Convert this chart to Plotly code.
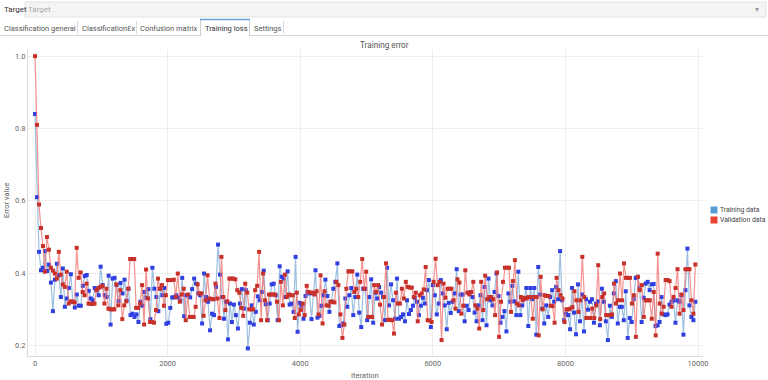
import numpy as np
import plotly.graph_objects as go

# ---------------- data ----------------
train_error = [
    0.84, 0.61,
    0.459, 0.408, 0.415, 0.461, 0.406, 0.424, 0.374, 0.295, 0.382, 0.426, 0.394, 0.334, 0.413, 0.307, 0.330,
    0.359, 0.397, 0.321, 0.305, 0.341, 0.310, 0.310, 0.365, 0.392, 0.395, 0.351, 0.330, 0.325, 0.359, 0.353,
    0.339, 0.418, 0.367, 0.339, 0.334, 0.393, 0.258, 0.385, 0.387, 0.367, 0.323, 0.373, 0.344, 0.382, 0.324,
    0.357, 0.284, 0.288, 0.279, 0.286, 0.265, 0.321, 0.310, 0.348, 0.332, 0.356, 0.273, 0.415, 0.357, 0.334,
    0.295, 0.357, 0.339, 0.359, 0.260, 0.263, 0.304, 0.333, 0.333, 0.339, 0.333, 0.324, 0.387, 0.281, 0.339,
    0.339, 0.333, 0.356, 0.385, 0.371, 0.344,
    0.339, 0.261, 0.399, 0.334, 0.321, 0.242, 0.288, 0.284, 0.362, 0.479, 0.396, 0.334, 0.274, 0.321, 0.217,
    0.316, 0.265, 0.313, 0.284, 0.247, 0.316, 0.356, 0.302, 0.353, 0.192, 0.263, 0.311, 0.258, 0.293, 0.336,
    0.325, 0.348, 0.407, 0.314, 0.270, 0.316, 0.369, 0.371, 0.339, 0.270, 0.419, 0.390, 0.385, 0.334, 0.405,
    0.313, 0.316, 0.293, 0.445, 0.238, 0.318, 0.310, 0.274, 0.337, 0.348, 0.344, 0.273, 0.344, 0.408, 0.277,
    0.282, 0.310, 0.339, 0.382, 0.337, 0.293, 0.321, 0.357, 0.376, 0.427, 0.254, 0.256, 0.261, 0.330, 0.307,
    0.339, 0.359, 0.284, 0.334, 0.396, 0.291, 0.251, 0.357,
    0.357, 0.270, 0.334, 0.383, 0.263, 0.346, 0.330, 0.362, 0.346, 0.334, 0.270, 0.415, 0.311, 0.369, 0.325,
    0.274, 0.385, 0.274, 0.279, 0.286, 0.267, 0.325, 0.287, 0.298, 0.310, 0.332, 0.321, 0.284, 0.310, 0.332,
    0.316, 0.353, 0.381, 0.251, 0.367, 0.339, 0.286, 0.316, 0.381, 0.344, 0.311, 0.245, 0.318, 0.290, 0.321,
    0.344, 0.411, 0.295, 0.341, 0.341, 0.267, 0.310, 0.298, 0.348, 0.334, 0.291, 0.267, 0.311, 0.339, 0.270,
    0.362, 0.256, 0.385, 0.325, 0.311, 0.348, 0.399, 0.337, 0.263, 0.279, 0.295, 0.239, 0.344, 0.321, 0.365,
    0.322, 0.284, 0.404, 0.284, 0.311, 0.330, 0.359, 0.254,
    0.359, 0.328, 0.359, 0.230, 0.417, 0.341, 0.302, 0.261, 0.311, 0.279, 0.334, 0.353, 0.321, 0.362, 0.328,
    0.461, 0.325, 0.270, 0.288, 0.284, 0.245, 0.359, 0.291, 0.231, 0.369, 0.267, 0.341, 0.239, 0.328, 0.299,
    0.321, 0.328, 0.263, 0.316, 0.322, 0.256, 0.357, 0.321, 0.267, 0.215, 0.310, 0.279, 0.344, 0.378, 0.261,
    0.307, 0.307, 0.270, 0.350, 0.221, 0.276, 0.265, 0.328, 0.387, 0.390, 0.359, 0.265, 0.332, 0.371, 0.376,
    0.353, 0.369, 0.370, 0.254, 0.256, 0.265, 0.334, 0.286, 0.284, 0.286, 0.313, 0.321, 0.324, 0.263, 0.325,
    0.321, 0.339, 0.230, 0.353, 0.468, 0.311, 0.279, 0.270, 0.321,
]

validation_error = [
    1.0, 0.81, 0.59, 0.525,
    0.475, 0.404, 0.500, 0.465, 0.415, 0.407, 0.399, 0.385, 0.459, 0.396, 0.369, 0.362, 0.404, 0.316, 0.322,
    0.321, 0.319, 0.470, 0.387, 0.402, 0.348, 0.339, 0.371, 0.316, 0.315, 0.315, 0.316, 0.353, 0.359, 0.362,
    0.365, 0.316, 0.357, 0.302, 0.300, 0.300, 0.300, 0.369, 0.311, 0.353, 0.273, 0.311, 0.322, 0.357, 0.439,
    0.439, 0.439, 0.304, 0.304, 0.316, 0.367, 0.258, 0.410, 0.330, 0.265, 0.265, 0.263, 0.298, 0.385, 0.357,
    0.367, 0.310, 0.339, 0.381, 0.381, 0.381, 0.382, 0.334, 0.399, 0.321, 0.341, 0.357, 0.270, 0.341, 0.279,
    0.279, 0.279, 0.307, 0.369, 0.344,
    0.344, 0.282, 0.325, 0.394, 0.330, 0.328, 0.328, 0.371, 0.330, 0.276, 0.445, 0.334, 0.298, 0.322, 0.385,
    0.385, 0.385, 0.383, 0.353, 0.346, 0.304, 0.282, 0.371, 0.346, 0.300, 0.300, 0.300, 0.353, 0.365, 0.459,
    0.270, 0.399, 0.325, 0.270, 0.341, 0.341, 0.341, 0.341, 0.321, 0.270, 0.376, 0.311, 0.396, 0.334, 0.341,
    0.339, 0.339, 0.276, 0.346, 0.286, 0.298, 0.316, 0.284, 0.365, 0.348, 0.346, 0.346, 0.341, 0.350, 0.286,
    0.394, 0.261, 0.350, 0.311, 0.310, 0.321, 0.321, 0.319, 0.376, 0.367, 0.286, 0.221, 0.258, 0.357, 0.405,
    0.405, 0.405, 0.348, 0.357, 0.334, 0.376, 0.439, 0.357,
    0.404, 0.279, 0.279, 0.279, 0.367, 0.348, 0.367, 0.313, 0.258, 0.334, 0.427, 0.271, 0.271, 0.270, 0.233,
    0.346, 0.316, 0.316, 0.357, 0.330, 0.376, 0.362, 0.360, 0.360, 0.334, 0.346, 0.267, 0.339, 0.344, 0.355,
    0.417, 0.270, 0.269, 0.265, 0.376, 0.440, 0.367, 0.376, 0.215, 0.371, 0.332, 0.357, 0.357, 0.357, 0.325,
    0.302, 0.383, 0.374, 0.288, 0.310, 0.408, 0.346, 0.341, 0.348, 0.376, 0.311, 0.302, 0.247, 0.376, 0.298,
    0.393, 0.328, 0.334, 0.334, 0.328, 0.284, 0.402, 0.224, 0.321, 0.376, 0.415, 0.415, 0.415, 0.293, 0.378,
    0.436, 0.316, 0.311, 0.334, 0.325, 0.332, 0.330, 0.334,
    0.334, 0.274, 0.334, 0.334, 0.228, 0.390, 0.300, 0.339, 0.337, 0.337, 0.310, 0.309, 0.263, 0.387, 0.353,
    0.339, 0.330, 0.265, 0.300, 0.300, 0.302, 0.306, 0.350, 0.325, 0.293, 0.325, 0.445, 0.334, 0.276, 0.276,
    0.276, 0.302, 0.276, 0.311, 0.422, 0.273, 0.334, 0.344, 0.284, 0.284, 0.284, 0.286, 0.371, 0.316, 0.325,
    0.399, 0.325, 0.427, 0.387, 0.387, 0.387, 0.316, 0.339, 0.224, 0.390, 0.353, 0.367, 0.279, 0.325, 0.325,
    0.325, 0.274, 0.348, 0.228, 0.454, 0.316, 0.288, 0.307, 0.381, 0.381, 0.378, 0.307, 0.334, 0.359, 0.411,
    0.288, 0.341, 0.298, 0.411, 0.411, 0.411, 0.325, 0.288, 0.424,
]

LAST_ITERATION = 9960
train_iter = np.linspace(0, LAST_ITERATION, len(train_error))
val_iter = np.linspace(0, LAST_ITERATION, len(validation_error))

x_ticks = [0, 2000, 4000, 6000, 8000, 10000]
x_tick_text = ["0", "2000", "4000", "6000", "8000", "10000"]
y_ticks = [0.2, 0.4, 0.6, 0.8, 1.0]
y_tick_text = ["0.2", "0.4", "0.6", "0.8", "1.0"]
tabs = ["Classification general", "ClassificationEx", "Confusion matrix", "Training loss", "Settings"]

# ---------------- layout helpers ----------------
W, H = 768, 380
L, R, T, B = 28, 703, 50, 356
FONT = "Roboto, Liberation Sans, Arial, sans-serif"


def px(x):
    return (x - L) / (R - L)


def py(y):
    return (B - y) / (B - T)


fig = go.Figure()
fig.add_trace(go.Scatter(
    x=train_iter, y=train_error, mode="lines+markers", name="Training data",
    line=dict(color="rgba(125,170,215,0.75)", width=1.2),
    marker=dict(symbol="square", size=4, color="#2f3fe0"),
    showlegend=False,
))
fig.add_trace(go.Scatter(
    x=val_iter, y=validation_error, mode="lines+markers", name="Validation data",
    line=dict(color="rgba(242,110,105,0.75)", width=1.2),
    marker=dict(symbol="square", size=4, color="#c8302a"),
    showlegend=False,
))

shapes = []
ann = []

# header: Target dropdown
shapes.append(dict(type="rect", xref="paper", yref="paper", x0=px(25), x1=px(766), y0=py(2), y1=py(17),
                   fillcolor="#f4f4f4", line=dict(color="#e3e3e3", width=1), layer="below"))
ann.append(dict(text="Target", x=px(2), y=py(9.5), xanchor="left", yanchor="middle",
                font=dict(size=8, color="#333333")))
ann.append(dict(text="Target", x=px(26), y=py(9.5), xanchor="left", yanchor="middle",
                font=dict(size=8, color="#aaaaaa")))
ann.append(dict(text="▾", x=px(757), y=py(9.5), xanchor="center", yanchor="middle",
                font=dict(size=8, color="#999999")))

# tabs
shapes.append(dict(type="line", xref="paper", yref="paper", x0=px(0), x1=px(768), y0=py(35.5), y1=py(35.5),
                   line=dict(color="#d6d6d6", width=1)))
for sx in [77.5, 136.5, 283.5]:
    shapes.append(dict(type="line", xref="paper", yref="paper", x0=px(sx), x1=px(sx), y0=py(21), y1=py(34),
                       line=dict(color="#dddddd", width=1)))
shapes.append(dict(type="rect", xref="paper", yref="paper", x0=px(200), x1=px(250), y0=py(19), y1=py(36.5),
                   fillcolor="white", line=dict(width=0)))
for sx in [200.5, 249.5]:
    shapes.append(dict(type="line", xref="paper", yref="paper", x0=px(sx), x1=px(sx), y0=py(19), y1=py(36),
                       line=dict(color="#cfcfcf", width=1)))
shapes.append(dict(type="line", xref="paper", yref="paper", x0=px(200), x1=px(250), y0=py(19.5), y1=py(19.5),
                   line=dict(color="#6e9fd8", width=1.5)))
tab_x = [1.5, 79.5, 137.5, 202.5, 251.5]
for name, tx in zip(tabs, tab_x):
    ann.append(dict(text=name, x=px(tx), y=py(28), xanchor="left", yanchor="middle",
                    font=dict(size=7.5, color="#333333" if name == "Training loss" else "#555555")))

# title and axis titles
ann.append(dict(text="Training error", x=px(384), y=py(44.5), xanchor="center", yanchor="middle",
                font=dict(size=8.2, color="#555555")))
ann.append(dict(text="Iteration", x=px(365), y=py(375), xanchor="center", yanchor="middle",
                font=dict(size=7.5, color="#666666")))
ann.append(dict(text="Error value", x=px(6), y=py(200), xanchor="center", yanchor="middle", textangle=-90,
                font=dict(size=7.5, color="#666666")))

# legend
legend_items = [("Training data", "#5b9bd5", 210), ("Validation data", "#e8432f", 220)]
for label, col, ly in legend_items:
    shapes.append(dict(type="rect", xref="paper", yref="paper", x0=px(710.5), x1=px(717.5),
                       y0=py(ly - 3.5), y1=py(ly + 3.5), fillcolor=col, line=dict(width=0)))
    ann.append(dict(text=label, x=px(718), y=py(ly), xanchor="left", yanchor="middle",
                    font=dict(size=6.8, color="#444444")))

for a in ann:
    a.update(xref="paper", yref="paper", showarrow=False)

fig.update_layout(
    width=W, height=H,
    margin=dict(l=L, r=W - R, t=T, b=H - B, autoexpand=False),
    paper_bgcolor="white", plot_bgcolor="white",
    font=dict(family=FONT, size=8, color="#666666"),
    shapes=shapes, annotations=ann,
    xaxis=dict(range=[-106, 10075], tickvals=x_ticks, ticktext=x_tick_text, showgrid=True,
               gridcolor="#eeeeee", gridwidth=1, showline=True, linecolor="#dcdcdc", zeroline=False,
               ticks="", tickfont=dict(size=7.5, color="#666666")),
    yaxis=dict(range=[0.171, 1.017], tickvals=y_ticks, ticktext=y_tick_text, showgrid=True,
               gridcolor="#eeeeee", gridwidth=1, showline=True, linecolor="#dcdcdc", zeroline=False,
               ticks="", tickfont=dict(size=7.5, color="#666666")),
)

fig.write_html(
    "out.html",
    config={"displayModeBar": False},
    post_script="document.body.style.margin='0px';document.body.style.overflow='hidden';",
)
